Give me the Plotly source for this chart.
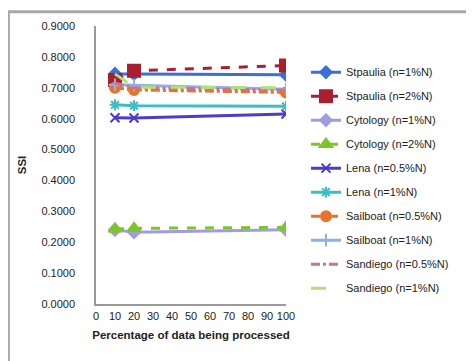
import plotly.graph_objects as go

x_pct = [10, 20, 100]

series_names = [
    "Stpaulia (n=1%N)", "Stpaulia (n=2%N)",
    "Cytology (n=1%N)", "Cytology (n=2%N)",
    "Lena (n=0.5%N)", "Lena (n=1%N)",
    "Sailboat (n=0.5%N)", "Sailboat (n=1%N)",
    "Sandiego (n=0.5%N)", "Sandiego (n=1%N)",
]

stpaulia_1 = [0.745, 0.745, 0.742]
stpaulia_2 = [0.725, 0.755, 0.772]
cytology_1 = [0.240, 0.232, 0.240]
cytology_2 = [0.243, 0.245, 0.248]
lena_05 = [0.603, 0.602, 0.615]
lena_1 = [0.645, 0.642, 0.640]
sailboat_05 = [0.700, 0.693, 0.685]
sailboat_1 = [0.710, 0.708, 0.695]
sandiego_05 = [0.715, 0.700, 0.692]
sandiego_1 = [0.745, 0.702, 0.700]

y_ticks = [0.0, 0.1, 0.2, 0.3, 0.4, 0.5, 0.6, 0.7, 0.8, 0.9]
x_ticks = [0, 10, 20, 30, 40, 50, 60, 70, 80, 90, 100]

values = [stpaulia_1, stpaulia_2, cytology_1, cytology_2, lena_05, lena_1,
          sailboat_05, sailboat_1, sandiego_05, sandiego_1]

styles = [
    dict(color="#3b6fd6", dash="solid", symbol="diamond", size=9, width=3),
    dict(color="#a8202f", dash="dash", symbol="square", size=12, width=3),
    dict(color="#a09ce0", dash="solid", symbol="diamond", size=9, width=3),
    dict(color="#7cc62a", dash="dash", symbol="triangle-up", size=11, width=3),
    dict(color="#4b3ccc", dash="solid", symbol="x-thin-open", size=9, width=3),
    dict(color="#3dbdc4", dash="solid", symbol="asterisk-open", size=9, width=3),
    dict(color="#e6742b", dash="dashdot", symbol="circle", size=10, width=3),
    dict(color="#8db0e8", dash="solid", symbol="cross-thin-open", size=9, width=3),
    dict(color="#d0708e", dash="dashdot", symbol=None, size=0, width=3),
    dict(color="#aee274", dash="longdash", symbol=None, size=0, width=3),
]

fig = go.Figure()
for i, (name, vals, st) in enumerate(zip(series_names, values, styles)):
    marker = dict(color=st["color"], size=st["size"],
                  line=dict(color=st["color"], width=2))
    if st["symbol"]:
        marker["symbol"] = st["symbol"]
        mode = "lines+markers"
    else:
        mode = "lines"
    fig.add_trace(go.Scatter(
        x=x_pct, y=vals, name=name, mode=mode, legendgroup=f"g{i}",
        line=dict(color=st["color"], dash=st["dash"], width=st["width"]),
        marker=marker,
    ))

W, H = 474, 361
ml, mr, mt, mb = 88, 196, 15, 65
pw, ph = W - ml - mr, H - mt - mb

fig.update_layout(
    width=W, height=H,
    margin=dict(l=ml, r=mr, t=mt, b=mb),
    paper_bgcolor="white", plot_bgcolor="white",
    font=dict(family="Liberation Sans, Arial, sans-serif", size=11, color="#222"),
    showlegend=True,
    legend=dict(
        x=(298 - ml) / pw, y=(H - mb - 47) / ph, xanchor="left", yanchor="top",
        font=dict(size=11, color="#222"), tracegroupgap=5,
        bgcolor="rgba(0,0,0,0)", itemwidth=30,
    ),
    xaxis=dict(
        range=[0, 100], tickvals=x_ticks, ticktext=[str(v) for v in x_ticks],
        showgrid=False, zeroline=False, showline=True, linecolor="#9a9a9a",
        linewidth=1.5, ticks="", ticklabelstandoff=1,
        title=dict(text="<b>Percentage of data being processed</b>",
                   font=dict(size=11.5, color="#222"), standoff=10),
    ),
    yaxis=dict(
        range=[0, 0.9], tickvals=y_ticks, tickformat=".4f",
        showgrid=False, zeroline=False, showline=True, linecolor="#9a9a9a",
        linewidth=1.5, ticks="", ticklabelstandoff=17,
        title=dict(text="<b>SSI</b>", font=dict(size=11.5, color="#222"),
                   standoff=12),
    ),
    shapes=[dict(
        type="rect", xref="paper", yref="paper",
        x0=-ml / pw + 0.002, x1=(pw + mr) / pw - 0.004,
        y0=-mb / ph + 0.004, y1=(ph + mt) / ph - 0.002,
        line=dict(color="#a8a8a8", width=3), fillcolor="rgba(0,0,0,0)",
        layer="below",
    )],
)

fig.write_html("out.html")
